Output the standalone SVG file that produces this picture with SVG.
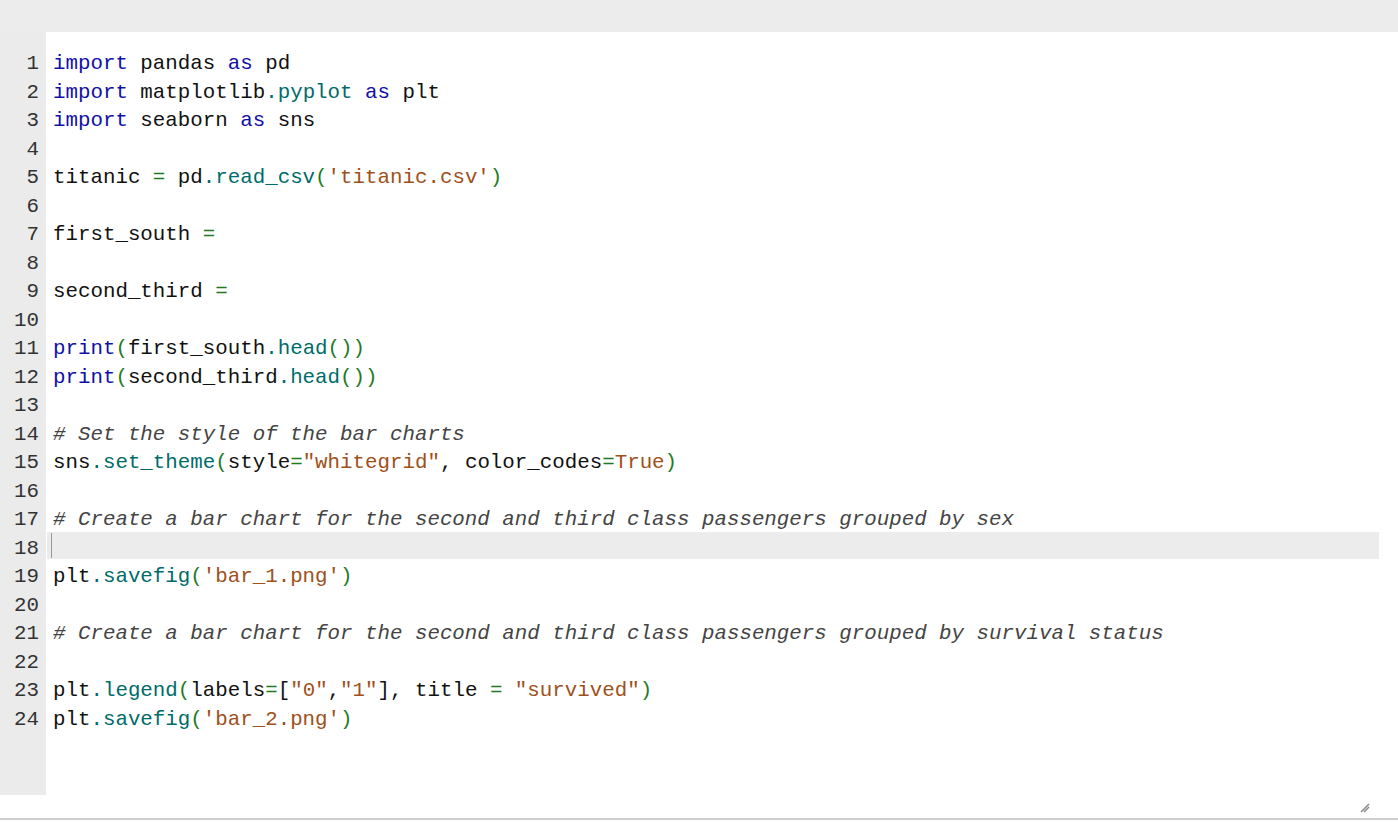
<svg xmlns="http://www.w3.org/2000/svg" width="1398" height="822" viewBox="0 0 1398 822">
<style>
text{font-family:"Liberation Mono","DejaVu Sans Mono",monospace;font-size:20.8px;fill:#111;white-space:pre}
.n{text-anchor:end;fill:#333}
.k{fill:#1010a8}.m{fill:#006b6b}.s{fill:#a0501a}.o{fill:#1f7a1f}.c{fill:#444;font-style:italic}
</style>
<rect width="1398" height="822" fill="#fff"/>
<rect width="1398" height="32" fill="#ececec"/>
<rect x="0" y="32" width="46" height="763" fill="#ebebeb"/>
<rect x="47" y="532" width="1332" height="27" fill="#ececec"/>
<rect x="51" y="533" width="1" height="25" fill="#999"/>
<rect x="0" y="818" width="1398" height="2" fill="#cfcfcf"/>
<path d="M1361 812 L1369 804 M1364 812 L1369 807" stroke="#888" stroke-width="1.5"/>
<g id="gutter">
<text class="n" x="39" y="69">1</text><text class="n" x="39" y="97.5">2</text><text class="n" x="39" y="126">3</text><text class="n" x="39" y="154.5">4</text><text class="n" x="39" y="183">5</text><text class="n" x="39" y="211.5">6</text><text class="n" x="39" y="240">7</text><text class="n" x="39" y="268.5">8</text><text class="n" x="39" y="297">9</text><text class="n" x="39" y="325.5">10</text><text class="n" x="39" y="354">11</text><text class="n" x="39" y="382.5">12</text><text class="n" x="39" y="411">13</text><text class="n" x="39" y="439.5">14</text><text class="n" x="39" y="468">15</text><text class="n" x="39" y="496.5">16</text><text class="n" x="39" y="525">17</text><text class="n" x="39" y="553.5">18</text><text class="n" x="39" y="582">19</text><text class="n" x="39" y="610.5">20</text><text class="n" x="39" y="639">21</text><text class="n" x="39" y="667.5">22</text><text class="n" x="39" y="696">23</text><text class="n" x="39" y="724.5">24</text>
</g>
<g id="code">
<text x="53" y="69"><tspan class="k">import</tspan> pandas <tspan class="k">as</tspan> pd</text>
<text x="53" y="97.5"><tspan class="k">import</tspan> matplotlib<tspan class="m">.pyplot</tspan> <tspan class="k">as</tspan> plt</text>
<text x="53" y="126"><tspan class="k">import</tspan> seaborn <tspan class="k">as</tspan> sns</text>
<text x="53" y="183">titanic <tspan class="o">=</tspan> pd<tspan class="m">.read_csv</tspan><tspan class="o">(</tspan><tspan class="s">'titanic.csv'</tspan><tspan class="o">)</tspan></text>
<text x="53" y="240">first_south <tspan class="o">=</tspan></text>
<text x="53" y="297">second_third <tspan class="o">=</tspan></text>
<text x="53" y="354"><tspan class="k">print</tspan><tspan class="o">(</tspan>first_south<tspan class="m">.head</tspan><tspan class="o">())</tspan></text>
<text x="53" y="382.5"><tspan class="k">print</tspan><tspan class="o">(</tspan>second_third<tspan class="m">.head</tspan><tspan class="o">())</tspan></text>
<text x="53" y="439.5" class="c"># Set the style of the bar charts</text>
<text x="53" y="468">sns<tspan class="m">.set_theme</tspan><tspan class="o">(</tspan>style<tspan class="o">=</tspan><tspan class="s">"whitegrid"</tspan>, color_codes<tspan class="o">=</tspan><tspan class="s">True</tspan><tspan class="o">)</tspan></text>
<text x="53" y="525" class="c"># Create a bar chart for the second and third class passengers grouped by sex</text>
<text x="53" y="582">plt<tspan class="m">.savefig</tspan><tspan class="o">(</tspan><tspan class="s">'bar_1.png'</tspan><tspan class="o">)</tspan></text>
<text x="53" y="639" class="c"># Create a bar chart for the second and third class passengers grouped by survival status</text>
<text x="53" y="696">plt<tspan class="m">.legend</tspan><tspan class="o">(</tspan>labels<tspan class="o">=</tspan>[<tspan class="s">"0"</tspan>,<tspan class="s">"1"</tspan>], title <tspan class="o">=</tspan> <tspan class="s">"survived"</tspan><tspan class="o">)</tspan></text>
<text x="53" y="724.5">plt<tspan class="m">.savefig</tspan><tspan class="o">(</tspan><tspan class="s">'bar_2.png'</tspan><tspan class="o">)</tspan></text>
</g>
</svg>
